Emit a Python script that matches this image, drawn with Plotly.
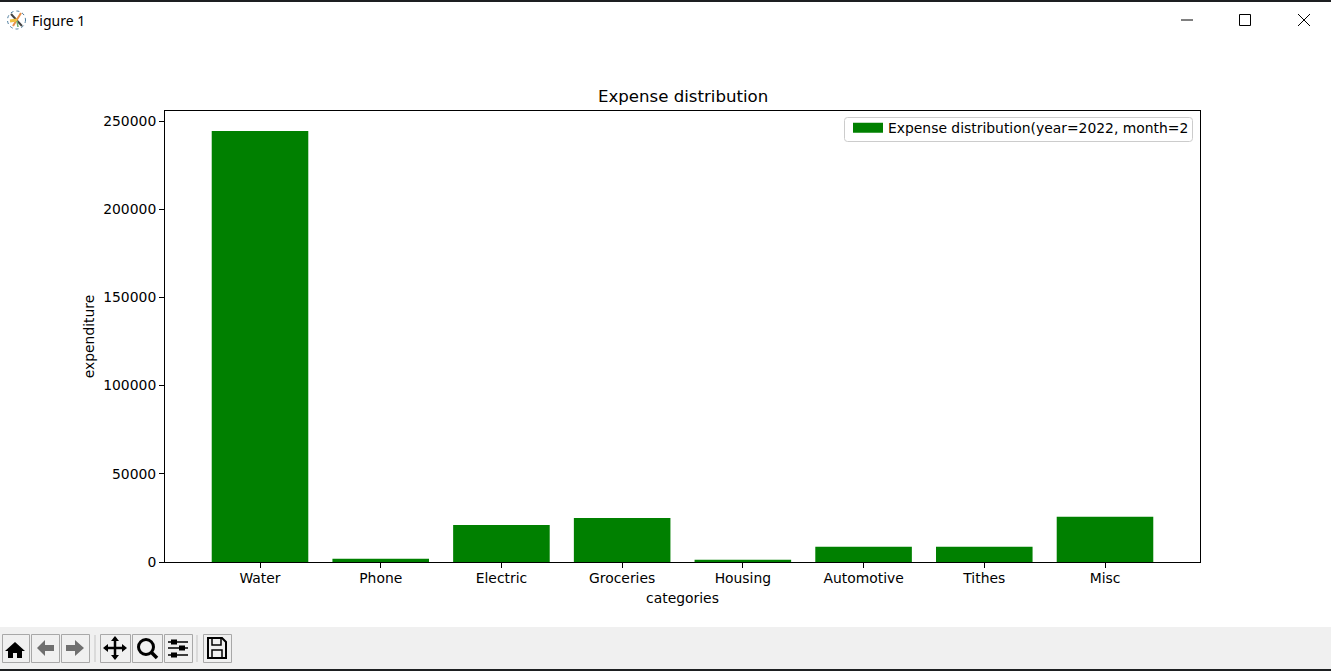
import plotly.graph_objects as go

W, H = 1331, 671
PAPER_H = 663  # plotly keeps 8px under the paper in this page, so paper spans 0..663 of the window
categories = ["Water", "Phone", "Electric", "Groceries", "Housing", "Automotive", "Tithes", "Misc"]
expenditure = [244300, 1900, 21000, 25000, 1300, 8700, 8700, 25700]
y_ticks = [0, 50000, 100000, 150000, 200000, 250000]
series_name = "Expense distribution(year=2022, month=2"

DARK = "#1d1f21"
TOOLBAR = "#f0f0f0"
FONT = "DejaVu Sans"
GREEN = "#008000"
NONE = "rgba(0,0,0,0)"


def X(px):
    return px / W


def Y(py):
    return 1 - py / PAPER_H


def rect(x0, y0, x1, y1, fill=None, line=None, lw=1):
    return dict(type="rect", xref="paper", yref="paper", x0=X(x0), y0=Y(y0), x1=X(x1), y1=Y(y1),
                fillcolor=fill or NONE, line=dict(color=line or NONE, width=lw if line else 0),
                layer="above")


def poly(points, fill=None, line=None, lw=1, close=True):
    d = "M" + " L".join(f"{X(a):.5f} {Y(b):.5f}" for a, b in points) + (" Z" if close else "")
    return dict(type="path", xref="paper", yref="paper", path=d,
                fillcolor=fill or NONE, line=dict(color=line or NONE, width=lw if line else 0),
                layer="above")


def rrect(x0, y0, x1, y1, r, fill, line):
    P = lambda a, b: f"{X(a):.5f} {Y(b):.5f}"
    d = (f"M{P(x0 + r, y0)} L{P(x1 - r, y0)} Q{P(x1, y0)} {P(x1, y0 + r)} L{P(x1, y1 - r)} Q{P(x1, y1)} {P(x1 - r, y1)} "
         f"L{P(x0 + r, y1)} Q{P(x0, y1)} {P(x0, y1 - r)} L{P(x0, y0 + r)} Q{P(x0, y0)} {P(x0 + r, y0)} Z")
    return dict(type="path", xref="paper", yref="paper", path=d, fillcolor=fill, line=dict(color=line, width=1),
                layer="above")


def seg(x0, y0, x1, y1, color="#000000", lw=1):
    return dict(type="line", xref="paper", yref="paper", x0=X(x0), y0=Y(y0), x1=X(x1), y1=Y(y1),
                line=dict(color=color, width=lw), layer="above")


def circle(cx, cy, r, fill=None, line=None, lw=1, dash=None):
    s = dict(type="circle", xref="paper", yref="paper", x0=X(cx - r), x1=X(cx + r), y0=Y(cy - r), y1=Y(cy + r),
             fillcolor=fill or NONE, line=dict(color=line or NONE, width=lw if line else 0),
             layer="above")
    if dash:
        s["line"]["dash"] = dash
    return s


shapes = []
# window frame bars
shapes.append(rect(0, 0, W, 2, fill=DARK))
shapes.append(rect(0, 627, W, 669, fill=TOOLBAR))
shapes.append(rect(0, 669, W, H, fill=DARK))
# window controls
shapes.append(seg(1181, 20, 1193, 20))
shapes.append(rect(1239.5, 14.5, 1250.5, 25.5, line="#000000"))
shapes.append(seg(1298, 14, 1310, 26))
shapes.append(seg(1310, 14, 1298, 26))
# app icon
shapes.append(circle(16.5, 20, 9, fill="#ffffff", line="#4a7a9c", lw=1, dash="dot"))
shapes.append(seg(11, 14, 22, 26, "#444444", 2))
shapes.append(seg(21, 13, 13, 26, "#e8904a", 2))
shapes.append(seg(10, 21, 17, 20, "#f0c040", 3))
shapes.append(seg(17, 21, 18, 27, "#70b070", 1.5))
# toolbar buttons
for x0, x1 in [(2, 29), (31, 59), (61, 89), (100, 130), (132, 162), (164, 192), (203, 231)]:
    shapes.append(rect(x0 + .5, 634.5, x1 + .5, 662.5, fill="#f0f0f0", line="#a8a8a8"))
shapes += [seg(95, 635, 95, 662, "#c4c4c4"), seg(197, 635, 197, 662, "#c4c4c4")]
# home
shapes.append(poly([(15, 642), (25, 651), (22, 651), (22, 658), (17, 658), (17, 653), (13, 653), (13, 658),
                    (8, 658), (8, 651), (5, 651)], fill="#000000"))
# back / forward
shapes.append(poly([(37, 648), (45, 640), (45, 645), (54, 645), (54, 651), (45, 651), (45, 656)], fill="#6f6f6f"))
shapes.append(poly([(84, 648), (75, 640), (75, 645), (66, 645), (66, 651), (75, 651), (75, 656)], fill="#6f6f6f"))
# pan
shapes.append(seg(105, 648, 125, 648, "#000000", 2.5))
shapes.append(seg(115, 638, 115, 658, "#000000", 2.5))
shapes.append(poly([(115, 636), (111, 641), (119, 641)], fill="#000000"))
shapes.append(poly([(115, 660), (111, 655), (119, 655)], fill="#000000"))
shapes.append(poly([(103, 648), (108, 644), (108, 652)], fill="#000000"))
shapes.append(poly([(127, 648), (122, 644), (122, 652)], fill="#000000"))
# zoom
shapes.append(circle(146, 647, 7.5, line="#000000", lw=3))
shapes.append(seg(151, 652, 157, 658, "#000000", 3.5))
# configure
for yy, xx in [(642, 174), (648, 182), (655, 174)]:
    shapes.append(seg(168, yy, 188, yy, "#000000", 1.5))
    shapes.append(rect(xx - 3, yy - 2.5, xx + 3, yy + 2.5, fill="#000000"))
# save
shapes.append(poly([(208, 638), (222, 638), (226, 642), (226, 658), (208, 658)], line="#000000", lw=2))
shapes.append(rect(212, 638, 221, 645, line="#000000", lw=1.5))
shapes.append(rect(212, 650, 222, 658, line="#000000", lw=1.5))
# legend frame
shapes.append(rrect(844.5, 117.5, 1192.5, 141.5, 3, "rgba(255,255,255,0.8)", "#cccccc"))

fig = go.Figure()
fig.add_trace(go.Bar(x=categories, y=expenditure, name=series_name, marker=dict(color=GREEN, line_width=0),
                     width=0.8, showlegend=False))
# legend key: matplotlib's wide patch, which a bar's own square key cannot reproduce
fig.add_trace(go.Scatter(x=[None], y=[None], mode="lines", name=series_name, line=dict(color=GREEN, width=10),
                         showlegend=True, hoverinfo="skip"))

fig.update_layout(
    width=W, height=H,
    autosize=False,
    margin=dict(l=0, r=0, t=0, b=0),
    paper_bgcolor="#ffffff",
    plot_bgcolor="#ffffff",
    font=dict(family=FONT, size=13.9, color="#000000"),
    showlegend=True,
    legend=dict(x=X(848), xanchor="left", y=Y(128.2), yanchor="middle", bgcolor=NONE,
                borderwidth=0, itemwidth=30, font=dict(family=FONT, size=13.9, color="#000000")),
    shapes=shapes,
    annotations=[
        dict(text="Expense distribution", xref="paper", yref="paper", x=X(683), y=Y(96), xanchor="center",
             yanchor="middle", showarrow=False, font=dict(family=FONT, size=16.6, color="#000000")),
        dict(text="Figure 1", xref="paper", yref="paper", x=X(30), y=Y(20), xanchor="left", yanchor="middle",
             showarrow=False, font=dict(family="Noto Sans", size=14, color="#000000")),
    ],
    xaxis=dict(domain=[X(165), X(1200)], range=[-0.787, 7.787], type="category", fixedrange=True,
               title=dict(text="categories", standoff=8, font=dict(family=FONT, size=13.9, color="#000000")),
               showline=True, linecolor="#000000", linewidth=1, mirror=True, showgrid=False, zeroline=False,
               ticks="outside", ticklen=5, tickcolor="#000000", tickwidth=1, ticklabelstandoff=-2,
               tickfont=dict(family=FONT, size=13.9, color="#000000")),
    yaxis=dict(domain=[Y(562), Y(111)], range=[0, 255700], fixedrange=True,
               title=dict(text="expenditure", standoff=5, font=dict(family=FONT, size=13.9, color="#000000")),
               tickvals=y_ticks, ticktext=[str(v) for v in y_ticks],
               showline=True, linecolor="#000000", linewidth=1, mirror=True, showgrid=False, zeroline=False,
               ticks="outside", ticklen=5, tickcolor="#000000", tickwidth=1,
               tickfont=dict(family=FONT, size=13.9, color="#000000")),
)

fig.write_html("out.html", config=dict(displayModeBar=False, responsive=False),
               default_width="1331px", default_height="671px",
               post_script="document.body.style.margin='0';document.body.style.overflow='hidden';")
